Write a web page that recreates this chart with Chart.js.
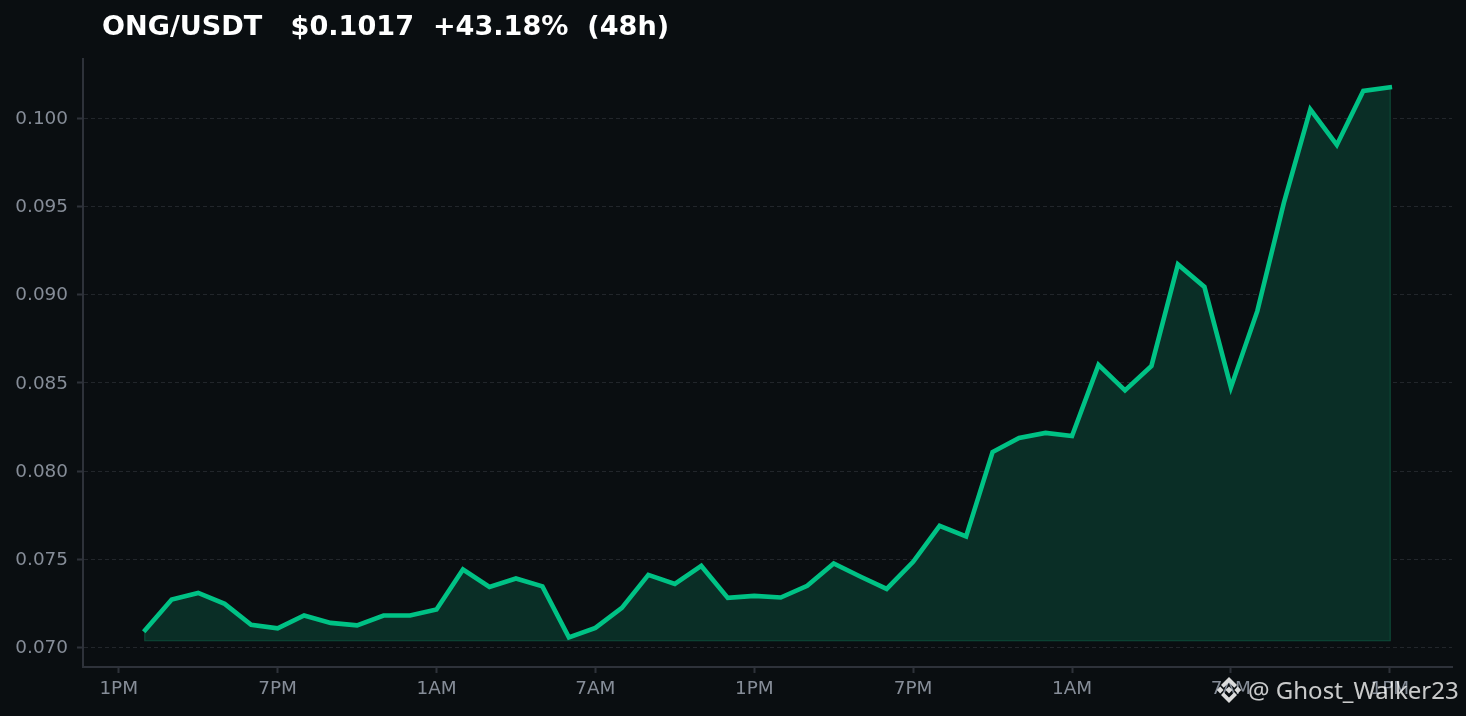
<!DOCTYPE html>
<html>
<head>
<meta charset="utf-8">
<title>ONG/USDT</title>
<script src="https://cdn.jsdelivr.net/npm/chart.js@4"></script>
<style>
    html, body { margin: 0; padding: 0; background: #0a0e11; overflow: hidden; }
    #wrap { position: relative; width: 1466px; height: 716px; }
    #chart { display: block; }
    #title {
        position: absolute; left: 102px; top: 10px; margin: 0;
        font: bold 27.1px "DejaVu Sans", sans-serif; color: #ffffff; white-space: pre;
    }
    #mark {
        position: absolute; left: 1214px; top: 673px; display: flex; align-items: center;
        font: 24px "Noto Sans", sans-serif; color: rgba(255, 255, 255, 0.78); white-space: pre;
    }
    #mark svg { margin-right: 4px; }
</style>
</head>
<body>
<div id="wrap">
    <canvas id="chart" width="1466" height="716"></canvas>
    <h1 id="title">ONG/USDT   $0.1017  +43.18%  (48h)</h1>
    <div id="mark">
        <svg width="30" height="30" viewBox="0 0 30 30" fill="#dcdcdc">
            <path d="M15 2l8 8-2.7 2.7L15 7.4l-5.3 5.3L7 10z"/>
            <path d="M15 28l8-8-2.7-2.7L15 22.6l-5.3-5.3L7 20z"/>
            <path d="M6.2 11.6L9.6 15l-3.4 3.4L2.8 15z"/>
            <path d="M23.8 11.6L27.2 15l-3.4 3.4L20.4 15z"/>
            <path d="M15 11.6l3.4 3.4-3.4 3.4-3.4-3.4z"/>
        </svg><span>@ Ghost_Walker23</span>
    </div>
</div>
<script>
// 48 hourly closes
const prices = [
    0.07099, 0.07272, 0.07309, 0.07247, 0.07128, 0.07108, 0.07181, 0.07139,
    0.07125, 0.07181, 0.07181, 0.07215, 0.07442, 0.07343, 0.07391, 0.07346,
    0.07057, 0.07111, 0.07224, 0.07411, 0.07360, 0.07462, 0.07281, 0.07292,
    0.07283, 0.07349, 0.07476, 0.07402, 0.07332, 0.07485, 0.07689, 0.07629,
    0.08108, 0.08188, 0.08216, 0.08199, 0.08602, 0.08457, 0.08596, 0.09171,
    0.09044, 0.08474, 0.08908, 0.09520, 0.10050, 0.09849, 0.10155, 0.10175
];
const hours = prices.map((_, i) => i + 1);
const fillBase = 0.0704;

const xTickValues = [0, 6, 12, 18, 24, 30, 36, 42, 48];
const xTickLabels = ['1PM', '7PM', '1AM', '7AM', '1PM', '7PM', '1AM', '7AM', '1PM'];
const yTickValues = [0.070, 0.075, 0.080, 0.085, 0.090, 0.095, 0.100];

const xRange = [-1.35, 50.35];
const yRange = [0.06889, 0.10336];

const TICK_FONT = { family: '"DejaVu Sans", sans-serif', size: 18.4 };
const TICK_COLOR = '#868d98';
const AXIS_COLOR = '#2e323a';

const lastHour = hours[hours.length - 1];
const lastPrice = prices[prices.length - 1];

new Chart(document.getElementById('chart'), {
    type: 'line',
    data: {
        datasets: [
            {
                // outline of the filled area
                data: [
                    { x: hours[0], y: prices[0] },
                    { x: hours[0], y: fillBase },
                    { x: lastHour, y: fillBase },
                    { x: lastHour, y: lastPrice },
                ],
                borderColor: '#0d4a38',
                borderWidth: 2,
                pointRadius: 0,
                fill: false,
                order: 2,
            },
            {
                data: hours.map((h, i) => ({ x: h, y: prices[i] })),
                borderColor: '#00c285',
                borderWidth: 4.6,
                borderJoinStyle: 'miter',
                borderCapStyle: 'square',
                backgroundColor: '#0a2e26',
                pointRadius: 0,
                tension: 0,
                fill: { value: fillBase },
                order: 1,
            },
        ],
    },
    options: {
        responsive: false,
        animation: false,
        layout: { padding: { top: 59, right: 14, left: 0, bottom: 0 } },
        plugins: { legend: { display: false }, tooltip: { enabled: false } },
        scales: {
            x: {
                type: 'linear',
                min: xRange[0],
                max: xRange[1],
                afterBuildTicks: scale => {
                    scale.ticks = xTickValues.map(value => ({ value }));
                },
                afterFit: scale => { scale.height = 49; },
                grid: { drawOnChartArea: false, tickColor: AXIS_COLOR, tickLength: 6, tickWidth: 2 },
                border: { color: AXIS_COLOR, width: 2 },
                ticks: {
                    color: TICK_COLOR,
                    font: TICK_FONT,
                    padding: 5,
                    maxRotation: 0,
                    autoSkip: false,
                    callback: value => xTickLabels[xTickValues.indexOf(value)],
                },
            },
            y: {
                min: yRange[0],
                max: yRange[1],
                afterBuildTicks: scale => {
                    scale.ticks = yTickValues.map(value => ({ value }));
                },
                afterFit: scale => { scale.width = 83; },
                grid: { color: '#22262b', lineWidth: 1, tickColor: AXIS_COLOR, tickLength: 6, tickWidth: 2 },
                border: { color: AXIS_COLOR, width: 2, dash: [4, 3] },
                ticks: {
                    color: TICK_COLOR,
                    font: TICK_FONT,
                    padding: 9,
                    labelOffset: 1,
                    autoSkip: false,
                    callback: value => value.toFixed(3),
                },
            },
        },
    },
});
</script>
</body>
</html>
